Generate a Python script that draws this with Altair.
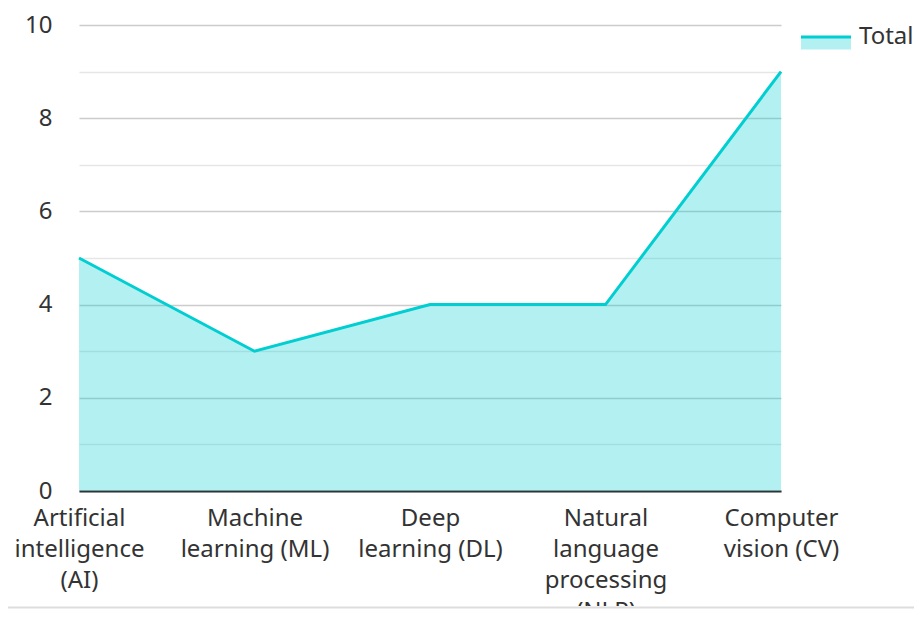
import altair as alt
import pandas as pd

categories = [
    "Artificial intelligence (AI)",
    "Machine learning (ML)",
    "Deep learning (DL)",
    "Natural language processing (NLP)",
    "Computer vision (CV)",
]
label_lines = [
    ["Artificial", "intelligence", "(AI)"],
    ["Machine", "learning (ML)"],
    ["Deep", "learning (DL)"],
    ["Natural", "language", "processing", "(NLP)"],
    ["Computer", "vision (CV)"],
]
totals = [5, 3, 4, 4, 9]
series_name = "Total"
y_ticks = list(range(0, 11))

df = pd.DataFrame({"category": categories, "value": totals})

FONT = "Noto Sans"
TEAL = "#00ced1"
TEXT = "#333333"
FS = 24

label_map = "{" + ", ".join(
    "'" + c + "': [" + ", ".join("'" + s + "'" for s in lines) + "]"
    for c, lines in zip(categories, label_lines)
) + "}"

x_enc = alt.X(
    "category:N",
    sort=categories,
    scale=alt.Scale(type="point", padding=0),
    axis=alt.Axis(
        title=None,
        labelAngle=0,
        labelExpr=label_map + "[datum.label]",
        labelFont=FONT,
        labelFontSize=FS,
        labelColor=TEXT,
        labelLineHeight=31,
        labelPadding=15,
        labelBaseline="top",
        ticks=False,
        grid=False,
        domain=True,
        domainColor="#333333",
        domainWidth=2,
        labelOverlap=False,
        labelLimit=300,
    ),
)
y_enc = alt.Y(
    "value:Q",
    scale=alt.Scale(domain=[0, 10], nice=False),
    axis=alt.Axis(
        title=None,
        values=y_ticks,
        labelExpr="datum.value % 2 === 0 ? datum.label : ''",
        labelFont=FONT,
        labelFontSize=FS,
        labelColor=TEXT,
        labelPadding=27,
        ticks=False,
        domain=False,
        grid=True,
        gridColor=alt.condition("datum.value % 2 === 0", alt.value("#cccccc"), alt.value("#e6e6e6")),
        gridWidth=1.5,
    ),
)

base = alt.Chart(df)
area = base.mark_area(color=TEAL, opacity=0.3).encode(x=x_enc, y=y_enc)
line = base.mark_line(color=TEAL, strokeWidth=3).encode(x=x_enc, y=y_enc)

# legend (decorative)
leg_df = pd.DataFrame({"name": [series_name]})
leg_rect = alt.Chart(leg_df).mark_rect(color=TEAL, opacity=0.3).encode(
    x=alt.value(722), x2=alt.value(772), y=alt.value(12), y2=alt.value(24.5)
)
leg_line = alt.Chart(leg_df).mark_rule(color=TEAL, strokeWidth=3).encode(
    x=alt.value(722), x2=alt.value(772), y=alt.value(12)
)
leg_text = alt.Chart(leg_df).mark_text(
    font=FONT, fontSize=FS, color=TEXT, align="left", baseline="middle"
).encode(x=alt.value(780), y=alt.value(12), text="name:N")

# bottom border
cover = alt.Chart(leg_df).mark_rect(color="white").encode(
    x=alt.value(-79), x2=alt.value(843), y=alt.value(581), y2=alt.value(590)
)
border = alt.Chart(leg_df).mark_rule(color="#dddddd", strokeWidth=2).encode(
    x=alt.value(-79), x2=alt.value(843), y=alt.value(582.5)
)

chart = alt.layer(area, line, leg_rect, leg_line, leg_text, cover, border).properties(
    width=702,
    height=466,
    autosize=alt.AutoSizeParams(type="none"),
    padding={"left": 71, "top": 17, "right": 133, "bottom": 118},
).configure_view(stroke=None)

chart.save("out.html", embed_options={"renderer": "svg", "actions": False})
